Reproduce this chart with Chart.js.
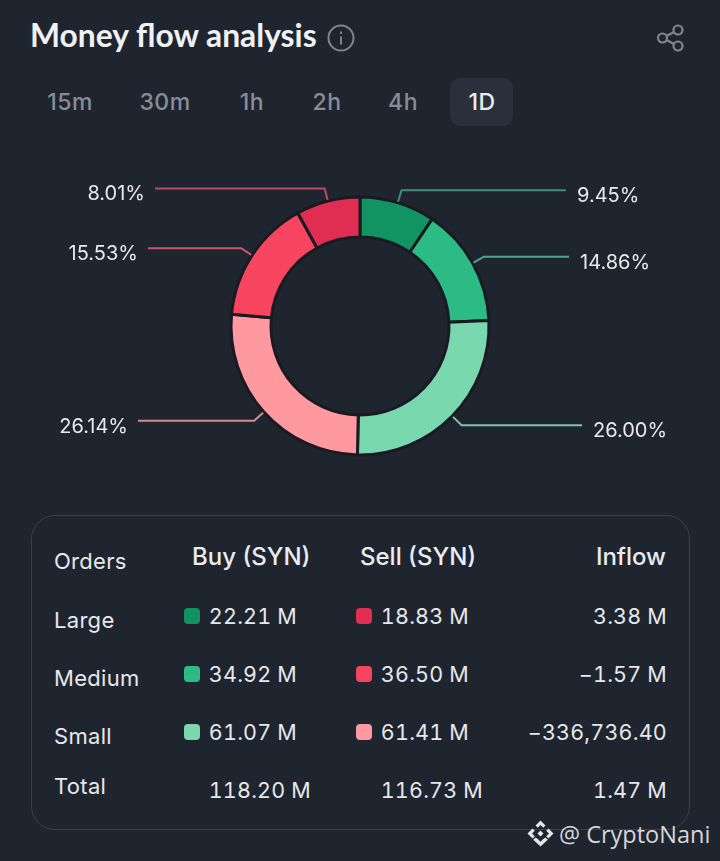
<!DOCTYPE html>
<html>
<head>
<meta charset="utf-8">
<title>Money flow analysis</title>
<script src="https://cdn.jsdelivr.net/npm/chart.js@4"></script>
<style>
  html, body { margin: 0; padding: 0; background: #1f252f; }
  body { width: 720px; height: 861px; position: relative; overflow: hidden; font-family: Inter, sans-serif; color: #eaecef; }
  .abs { position: absolute; white-space: nowrap; line-height: 1; transform: translateY(-50%); }
  .right { transform: translate(-100%, -50%); }
  .mid { transform: translate(-50%, -50%); }
  #title { left: 30px; top: 36px; font-family: Lato, sans-serif; font-size: 31.8px; font-weight: 700; color: #f0f1f4; }
  #activeTab { position: absolute; left: 450px; top: 78px; width: 63px; height: 48px; border-radius: 10px; background: #2a303b; }
  .tab { font-size: 23px; font-weight: 500; letter-spacing: 0.5px; color: #868d98; }
  .tab.on { color: #eaecef; }
  #card { position: absolute; left: 31px; top: 515px; width: 657px; height: 313px; border: 1.5px solid #3a404a; border-radius: 24px; box-sizing: content-box; }
  .swatch { position: absolute; width: 16px; height: 16px; border-radius: 4px; }
  .row { font-size: 22px; letter-spacing: 0.3px; color: #e6e8ec; }
  .num { font-size: 21.5px; letter-spacing: 0.2px; font-variant-numeric: tabular-nums; color: #e6e8ec; }
  .head { font-size: 24px; font-weight: 500; color: #eaecef; }
  #chartBox { position: absolute; left: 0; top: 146px; width: 720px; height: 360px; }
  svg { position: absolute; }
</style>
</head>
<body>
<div id="title" class="abs">Money flow analysis</div>
<svg style="left:327px;top:24px" width="28" height="28" viewBox="0 0 28 28" fill="none" stroke="#7f8691" stroke-width="2">
  <circle cx="14" cy="14" r="12.5"/><path d="M14 12.5v8M14 7.5v2.5"/>
</svg>
<svg style="left:656px;top:24px" width="29" height="28" viewBox="0 0 29 28" fill="none" stroke="#7f8691" stroke-width="2.2">
  <circle cx="6.5" cy="14" r="4.5"/><circle cx="22" cy="6" r="4.5"/><circle cx="22" cy="22" r="4.5"/>
  <path d="M10.5 12l7.5-4M10.5 16l7.5 4"/>
</svg>
<div id="activeTab"></div>
<div id="chartBox"><canvas id="flowChart"></canvas></div>
<div id="card"></div>
<svg style="left:527px;top:820px" width="27" height="27" viewBox="0 0 27 27" fill="#e3e5e8">
  <path d="M13.500 0.500l5 5-2.300 2.300-2.700-2.700-2.700 2.700-2.300-2.300zM5.500 8.500l2.300 2.300-2.700 2.700 2.700 2.700-2.300 2.300-5-5zM21.500 8.500l5 5-5 5-2.300-2.300 2.700-2.700-2.700-2.700zM13.500 10.500l3 3-3 3-3-3zM8.500 17.500l2.300 1.500 2.700 2.700 2.700-2.700 2.300-1.500 2.300 2.300-7.300 6.700-7.300-6.700z"/>
</svg>
<div class="abs" style="left:559px;top:835px;font-family:'Open Sans',sans-serif;font-size:23.5px;color:#d5d7db">@ CryptoNani</div>

<script>
const tabs = ["15m", "30m", "1h", "2h", "4h", "1D"];
const sliceNames = ["Large buy", "Medium buy", "Small buy", "Small sell", "Medium sell", "Large sell"];
const slicePct = [9.45, 14.86, 26.00, 26.14, 15.53, 8.01];
const sliceColors = ["#129462", "#2dbb85", "#7ad8af", "#fe999f", "#f8455f", "#df2e51"];
const lineColors = ["#3f8f78", "#4aa88a", "#7cc4ab", "#d98a93", "#c9566c", "#bd4a60"];

const orders = ["Large", "Medium", "Small", "Total"];
const buyValues = ["22.21 M", "34.92 M", "61.07 M", "118.20 M"];
const sellValues = ["18.83 M", "36.50 M", "61.41 M", "116.73 M"];
const inflowValues = ["3.38 M", "\u22121.57 M", "\u2212336,736.40", "1.47 M"];
const buyColors = ["#129462", "#2dbb85", "#7ad8af"];
const sellColors = ["#df2e51", "#f8455f", "#fe999f"];

function addText(text, x, y, cls) {
  const el = document.createElement("div");
  el.className = "abs " + cls;
  el.textContent = text;
  el.style.left = x + "px";
  el.style.top = y + "px";
  document.body.appendChild(el);
}

function addSwatch(color, x, y) {
  const el = document.createElement("div");
  el.className = "swatch";
  el.style.background = color;
  el.style.left = x + "px";
  el.style.top = y + "px";
  document.body.appendChild(el);
}

// header tabs
const tabX = [70, 165, 252, 327, 403, 482];
tabs.forEach((t, i) => addText(t, tabX[i], 102, "mid tab" + (t === "1D" ? " on" : "")));

// table
addText("Orders", 54, 561, "row");
addText("Buy (SYN)", 192, 557, "head");
addText("Sell (SYN)", 360, 557, "head");
addText("Inflow", 666, 557, "right head");

const labelY = [620, 678, 736, 786];
const valueY = [617, 675, 733, 791];
orders.forEach((name, i) => {
  addText(name, 54, labelY[i], "row");
  if (i < 3) {
    addSwatch(buyColors[i], 184, valueY[i] - 9);
    addSwatch(sellColors[i], 356, valueY[i] - 9);
    addText(buyValues[i], 297, valueY[i], "right num");
    addText(sellValues[i], 469, valueY[i], "right num");
  } else {
    addText(buyValues[i], 311, valueY[i], "right num");
    addText(sellValues[i], 483, valueY[i], "right num");
  }
  addText(inflowValues[i], 667, valueY[i], "right num");
});

// leader lines and percent labels, anchored on each arc's own mid angle
const lineEndX = [566, 569, 582, 138, 148, 155];
const leaderLabels = {
  id: "leaderLabels",
  afterDatasetsDraw(chart) {
    const ctx = chart.ctx;
    chart.getDatasetMeta(0).data.forEach((arc, i) => {
      const p = arc.getProps(["x", "y", "startAngle", "endAngle", "outerRadius"], true);
      const a = (p.startAngle + p.endAngle) / 2;
      const r1 = p.outerRadius + 1;
      const r2 = p.outerRadius + 13;
      const elbowX = p.x + Math.cos(a) * r2;
      const elbowY = p.y + Math.sin(a) * r2;
      ctx.save();
      ctx.strokeStyle = lineColors[i];
      ctx.lineWidth = 2;
      ctx.beginPath();
      ctx.moveTo(p.x + Math.cos(a) * r1, p.y + Math.sin(a) * r1);
      ctx.lineTo(elbowX, elbowY);
      ctx.lineTo(lineEndX[i], elbowY);
      ctx.stroke();
      const isRight = lineEndX[i] > p.x;
      ctx.fillStyle = "#e6e8ec";
      ctx.font = "20px Inter, sans-serif";
      ctx.textBaseline = "middle";
      ctx.textAlign = isRight ? "left" : "right";
      ctx.fillText(slicePct[i].toFixed(2) + "%", lineEndX[i] + (isRight ? 11 : -10), elbowY + 6);
      ctx.restore();
    });
  }
};

new Chart(document.getElementById("flowChart").getContext("2d"), {
  type: "doughnut",
  data: {
    labels: sliceNames,
    datasets: [{
      data: slicePct,
      backgroundColor: sliceColors,
      borderColor: "#1a1a22",
      borderWidth: 3
    }]
  },
  options: {
    responsive: true,
    maintainAspectRatio: false,
    animation: false,
    radius: 129,
    cutout: "69%",
    plugins: { legend: { display: false }, tooltip: { enabled: false } }
  },
  plugins: [leaderLabels]
});
</script>
</body>
</html>
